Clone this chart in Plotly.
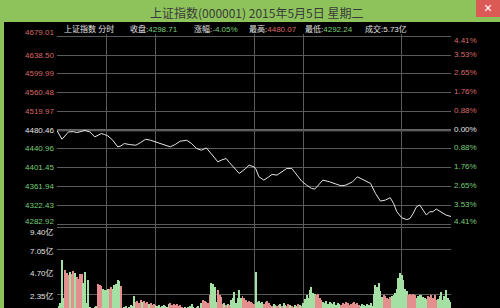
import plotly.graph_objects as go

# ---------------- data ----------------
TITLE = "上证指数(000001) 2015年5月5日 星期二"
PREV_CLOSE = 4480.46

PRICE_MIN = [0, 3, 7, 10, 12, 15, 17, 20, 23, 25, 27, 29, 31, 34, 37, 39, 41, 44, 48, 51,
             54, 57, 60, 63, 66, 69, 72, 75, 79, 82, 85, 88, 91, 93, 95, 98, 100, 103, 105, 108,
             111, 115, 117, 120, 121, 123, 126, 129, 131, 134, 137, 140, 143, 146, 149, 152, 155, 157, 159, 162,
             166, 170, 173, 176, 180, 183, 186, 189, 191, 194, 197, 200, 203, 205, 207, 210, 213, 215, 217, 219,
             221, 223, 225, 227, 229, 231, 234, 237, 240]
PRICE_VAL = [4479.9, 4461.5, 4476.9, 4477.5, 4475.4, 4479.0, 4480.07, 4477.0, 4466.4, 4470.0,
             4473.5, 4471.4, 4468.5, 4459.4, 4445.4, 4447.5, 4452.5, 4450.4, 4448.9, 4454.6,
             4461.5, 4459.4, 4455.9, 4452.5, 4448.9, 4445.4, 4450.4, 4457.3, 4459.4, 4452.5,
             4442.0, 4438.4, 4443.3, 4434.9, 4424.3, 4413.8, 4417.4, 4420.9, 4412.5, 4400.0,
             4389.4, 4400.0, 4406.9, 4403.3, 4400.0, 4382.3, 4375.4, 4382.3, 4387.4, 4385.9,
             4392.8, 4400.0, 4400.0, 4385.9, 4373.3, 4364.9, 4357.9, 4356.5, 4364.9, 4375.4,
             4371.8, 4366.3, 4363.4, 4364.9, 4371.8, 4382.3, 4377.5, 4373.3, 4368.4, 4347.4,
             4331.2, 4333.3, 4338.2, 4326.4, 4308.8, 4296.0, 4292.24, 4294.5, 4305.4, 4319.3,
             4322.8, 4312.3, 4301.8, 4308.8, 4308.8, 4314.4, 4308.8, 4301.8, 4298.71]

VOLUME = [1.0, 1.2, 1.5, 6.0, 2.0, 5.0, 4.6, 4.4, 4.7, 4.5,
          4.9, 4.6, 4.2, 4.0, 4.5, 4.5, 3.6, 4.7, 1.5, 3.9,
          1.1, 1.0, 1.0, 1.1, 1.2, 3.5, 3.4, 3.3, 3.0, 2.9,
          2.9, 3.0, 3.0, 3.2, 3.0, 3.4, 3.5, 3.9, 3.8, 3.3,
          1.0, 1.1, 1.2, 1.0, 1.1, 1.3, 1.2, 2.2, 1.6, 1.7,
          1.5, 1.8, 1.6, 1.7, 1.5, 1.6, 1.4, 1.5, 1.3, 1.4,
          1.3, 1.2, 1.3, 1.1, 1.2, 1.3, 1.2, 1.1, 1.4, 1.5,
          1.3, 1.4, 1.3, 1.4, 1.2, 1.3, 1.1, 1.0, 1.1, 1.0,
          1.1, 1.2, 1.4, 1.1, 1.0, 1.1, 1.2, 1.0, 1.5, 1.8,
          1.7, 1.6, 1.5, 2.4, 3.6, 3.5, 3.2, 1.6, 2.9, 2.3,
          2.1, 1.4, 1.5, 1.3, 1.4, 1.3, 1.8, 2.0, 2.7, 1.5,
          2.0, 2.9, 2.0, 2.2, 2.0, 1.8, 1.6, 1.7, 1.6, 1.5,
          1.4, 4.8, 1.6, 1.7, 1.5, 1.6, 1.4, 1.6, 1.7, 1.5,
          1.3, 1.2, 1.4, 1.3, 1.2, 1.3, 1.4, 1.2, 1.5, 1.3,
          1.2, 1.4, 1.3, 1.2, 1.1, 1.3, 1.2, 1.4, 1.3, 1.2,
          1.5, 1.9, 2.3, 2.0, 2.9, 3.2, 2.6, 2.5, 2.4, 2.5,
          2.0, 1.8, 1.6, 1.5, 1.7, 1.4, 1.6, 1.5, 1.4, 1.6,
          1.3, 1.5, 1.4, 1.3, 1.5, 1.4, 1.6, 1.5, 1.3, 1.4,
          1.5, 1.6, 1.4, 1.5, 1.3, 1.2, 1.4, 1.3, 1.2, 1.4,
          1.3, 1.5, 1.2, 2.5, 3.4, 3.2, 3.6, 2.8, 2.1, 2.4,
          2.2, 2.0, 1.9, 2.1, 2.2, 2.3, 2.6, 3.0, 4.1, 4.6,
          4.4, 3.9, 3.0, 2.8, 2.4, 2.5, 2.3, 2.5, 2.4, 2.0,
          2.2, 2.4, 2.3, 2.1, 2.0, 1.9, 2.2, 2.1, 2.3, 2.0,
          2.4, 1.8, 1.9, 2.2, 2.7, 1.8, 2.2, 2.9, 2.0, 1.8,
          1.6]

# r = up minute, g = down minute
VOL_DIR = "".join([
    "ggggg", "rrrgrrgrrrr", "gggg", "ggggg", "rrr", "gggg", "rr", "ggggg", "r",
    "gggggggg", "rrrrgrrrgrrr", "ggggggggg", "rrrrrrrrr", "ggggggggggg", "rrrrr",
    "gggg", "rrr", "rgrgr", "ggggggg", "rrrrrrrr", "ggggg", "rrrrr",
    "rggrrgrggrrgrrggrgrg", "ggggggg", "rrrr", "ggggggggggg", "rrrrrrrrrrrr",
    "ggggggggg", "ggggg", "rrrrr", "gggggggggg", "rrrrr", "ggggggg", "rrrrrr",
    "ggggggggg"])

PRICE_TICKS = [4679.01, 4638.50, 4599.99, 4560.48, 4519.97, 4480.46,
               4440.96, 4401.45, 4361.94, 4322.43, 4282.92]
PRICE_LABELS = ["4679.01", "4638.50", "4599.99", "4560.48", "4519.97", "4480.46",
                "4440.96", "4401.45", "4361.94", "4322.43", "4282.92"]
PCT_LABELS = ["4.41%", "3.53%", "2.65%", "1.76%", "0.88%", "0.00%",
              "0.88%", "1.76%", "2.65%", "3.53%", "4.41%"]
VOL_TICKS = [9.40, 7.05, 4.70, 2.35]
VOL_LABELS = ["9.40亿", "7.05亿", "4.70亿", "2.35亿"]
VOL_GRID = [9.40, 7.05, 2.35]
TIME_GRID = [30, 60, 120, 150, 210]

INFO = [("上证指数 分时", "", None),
        ("收盘:", "4298.71", "green"),
        ("涨幅:", "-4.05%", "green"),
        ("最高:", "4480.07", "red"),
        ("最低:", "4292.24", "green"),
        ("成交:", "5.73亿", "white")]

# ---------------- layout helpers ----------------
W, H = 500, 308
ML, MR = 57, 49
PW = W - ML - MR


def fx(px):
    return (px - ML) / PW


def fy(py):
    return 1 - py / H


RED = "#d86868"
GREEN = "#78cc78"
WHITE = "#e4e4e4"
COL = {"red": RED, "green": GREEN, "white": WHITE}
FONT = "Liberation Sans, Noto Sans CJK SC, sans-serif"
GRID = "#5a5a5a"
BAR_COL = {"r": "#e48e8e", "g": "#a4e0a4"}

fig = go.Figure()
fig.add_trace(go.Scatter(x=PRICE_MIN, y=PRICE_VAL, mode="lines",
                         line=dict(color="#e6e6e6", width=1),
                         xaxis="x", yaxis="y", hoverinfo="skip"))
fig.add_trace(go.Bar(x=list(range(len(VOLUME))), y=VOLUME,
                     marker=dict(color=[BAR_COL[c] for c in VOL_DIR], line=dict(width=0)),
                     width=0.6, xaxis="x2", yaxis="y2", hoverinfo="skip"))

ax_common = dict(showticklabels=False, ticks="", showline=False, zeroline=False,
                 showgrid=True, gridcolor=GRID, gridwidth=1, fixedrange=True)

fig.update_layout(
    width=W, height=H,
    margin=dict(l=ML, r=MR, t=0, b=0, pad=0),
    paper_bgcolor="#000000", plot_bgcolor="#000000",
    showlegend=False, hovermode=False, bargap=0,
    xaxis=dict(domain=[0, 1], range=[0, 240], tickvals=TIME_GRID, anchor="y", **ax_common),
    xaxis2=dict(domain=[0, 1], range=[0, 240], tickvals=TIME_GRID, anchor="y2",
                matches="x", **ax_common),
    yaxis=dict(domain=[fy(226), fy(34)], range=[4278.71, 4683.22],
               tickvals=PRICE_TICKS, anchor="x", **ax_common),
    yaxis2=dict(domain=[0, fy(225)], range=[0.99, 9.66],
                tickvals=VOL_GRID, anchor="x2", **ax_common),
)

shapes = [
    dict(type="rect", xref="paper", yref="paper", x0=fx(0), x1=fx(500), y0=fy(22), y1=fy(0),
         fillcolor="#8dc35a", line=dict(width=0), layer="above"),
    dict(type="rect", xref="paper", yref="paper", x0=fx(476), x1=fx(500), y0=fy(17), y1=fy(0),
         fillcolor="#db5a55", line=dict(width=0), layer="above"),
    dict(type="rect", xref="paper", yref="paper", x0=fx(0), x1=fx(4), y0=fy(308), y1=fy(22),
         fillcolor="#8dc35a", line=dict(width=0), layer="above"),
    dict(type="line", xref="paper", yref="y", x0=0, x1=1, y0=PREV_CLOSE, y1=PREV_CLOSE,
         line=dict(color="#8a8a8a", width=2), layer="below"),
]
fig.update_layout(shapes=shapes)

ann = []
ann.append(dict(xref="paper", yref="paper", x=fx(256), y=fy(12), text=TITLE, showarrow=False,
                font=dict(family="Noto Sans CJK SC, sans-serif", size=12, color="#3a3a3a"),
                xanchor="center", yanchor="middle"))
ann.append(dict(xref="paper", yref="paper", x=fx(488), y=fy(8), text="×", showarrow=False,
                font=dict(family=FONT, size=14, color="#ffffff"),
                xanchor="center", yanchor="middle"))

info_x = [62, 128, 192, 247, 303, 363]
for (lab, val, col), px in zip(INFO, info_x):
    t = lab
    if val:
        t += "<span style='color:%s'>%s</span>" % (COL[col], val)
    ann.append(dict(xref="paper", yref="paper", x=fx(px), y=fy(29.5), text=t, showarrow=False,
                    font=dict(family=FONT, size=8, color=WHITE),
                    xanchor="left", yanchor="middle"))

n = len(PRICE_TICKS)
for i, (v, lab, pct) in enumerate(zip(PRICE_TICKS, PRICE_LABELS, PCT_LABELS)):
    if v > PREV_CLOSE + 0.01:
        c = RED
    elif v < PREV_CLOSE - 0.01:
        c = GREEN
    else:
        c = WHITE
    ls = 3 if i == 0 else (3 if i == n - 1 else 0)
    rs = -4.5 if i == 0 else (3 if i == n - 1 else 1)
    ann.append(dict(xref="paper", yref="y", x=fx(56), y=v, yshift=ls, text=lab, showarrow=False,
                    font=dict(family=FONT, size=8, color=c), xanchor="right", yanchor="middle"))
    ann.append(dict(xref="paper", yref="y", x=fx(452), y=v, yshift=rs, text=pct, showarrow=False,
                    font=dict(family=FONT, size=8, color=c), xanchor="left", yanchor="middle"))

for i, (v, lab) in enumerate(zip(VOL_TICKS, VOL_LABELS)):
    sh = -4.5 if i == 0 else -1
    ann.append(dict(xref="paper", yref="y2", x=fx(56), y=v, yshift=sh, text=lab, showarrow=False,
                    font=dict(family=FONT, size=8, color=WHITE), xanchor="right", yanchor="middle"))

fig.update_layout(annotations=ann)
fig.write_html("out.html", config={"displayModeBar": False})
